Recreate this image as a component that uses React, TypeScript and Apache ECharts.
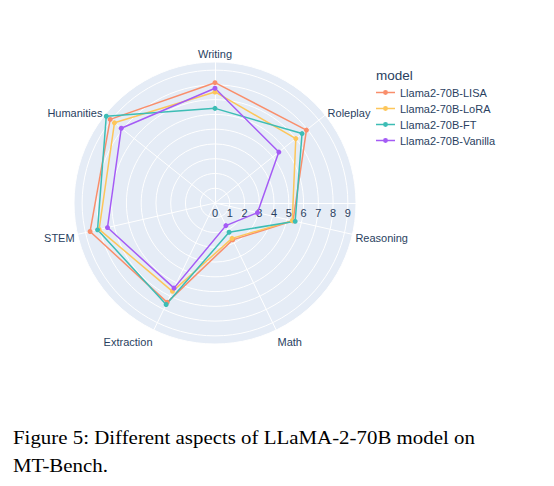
import { useEffect, useRef } from 'react'
import * as echarts from 'echarts'

// 类别 (plotly 顺时针顺序, 从顶部开始)
const categories = ['Writing', 'Roleplay', 'Reasoning', 'Math', 'Extraction', 'STEM', 'Humanities']

const models = ['Llama2-70B-LISA', 'Llama2-70B-LoRA', 'Llama2-70B-FT', 'Llama2-70B-Vanilla']
const colors = ['#F98E6B', '#FDC65A', '#3DBDB5', '#A45BF5']

const lisa = [8.15, 7.92, 5.42, 2.77, 7.47, 8.68, 9.08]
const lora = [7.52, 7.0, 5.37, 2.66, 6.64, 8.05, 8.71]
const ft = [6.41, 7.54, 5.57, 2.2, 7.63, 8.16, 9.42]
const vanilla = [7.77, 5.53, 2.95, 1.7, 6.4, 7.47, 8.12]

const radialTicks = ['0', '1', '2', '3', '4', '5', '6', '7', '8', '9']
const radialMax = 9.55

const caption = ['Figure 5: Different aspects of LLaMA-2-70B model on', 'MT-Bench.']

const font = '"Liberation Sans", Arial, sans-serif'
const textColor = '#2a3f5f'

// echarts radar 是逆时针, 重新排一下
const order = [0, 6, 5, 4, 3, 2, 1]
const reorder = (arr: number[]) => order.map((i) => arr[i])

// 类别名称往下挪一点, 对齐 plotly 的位置
const namePad: Record<string, string> = { Reasoning: 'a', STEM: 'a', Math: 'b', Extraction: 'b' }

// 图例: 线 + 圆点
const legendIcon =
  'path://M0,3.3H20V4.7H0Z M7.4,4A2.6,2.6 0 1,1 12.6,4A2.6,2.6 0 1,1 7.4,4Z'

export default function App() {
  const chartRef = useRef<HTMLDivElement>(null)

  useEffect(() => {
    document.body.style.margin = '0'
    if (!chartRef.current) return
    const chart = echarts.init(chartRef.current, null, { renderer: 'svg' })

    const seriesValues = [lisa, lora, ft, vanilla]

    const option = {
      animation: false,
      backgroundColor: '#fff',
      textStyle: { fontFamily: font },
      legend: {
        orient: 'vertical',
        left: 376,
        top: 86,
        padding: 0,
        itemWidth: 19,
        itemHeight: 8,
        itemGap: 3,
        icon: legendIcon,
        selectedMode: false,
        data: models,
        textStyle: { color: textColor, fontSize: 11, fontFamily: font, lineHeight: 13 }
      },
      polar: { center: [215, 203], radius: 141 },
      angleAxis: {
        type: 'value',
        min: 0,
        max: 360,
        startAngle: 0,
        axisLine: { show: false },
        axisTick: { show: false },
        axisLabel: { show: false },
        splitLine: { show: false }
      },
      radiusAxis: {
        type: 'value',
        min: 0,
        max: radialMax,
        interval: 1,
        z: 2,
        axisLine: { show: true, lineStyle: { color: '#fff', width: 1 } },
        axisTick: { show: false },
        axisLabel: {
          color: textColor,
          fontSize: 11,
          fontFamily: font,
          margin: -4,
          verticalAlign: 'top',
          showMaxLabel: false,
          formatter: (v: number) => (radialTicks.includes(String(v)) ? String(v) : '')
        },
        splitLine: { show: true, lineStyle: { color: '#fff', width: 1 } },
        splitArea: { show: false }
      },
      radar: {
        center: [215, 203],
        radius: 141,
        startAngle: 90,
        shape: 'circle',
        splitNumber: 1,
        z: 0,
        nameGap: 3,
        indicator: reorder(categories.map((_, i) => i)).map((i) => ({
          name: categories[i],
          min: 0,
          max: radialMax
        })),
        axisName: {
          color: textColor,
          fontSize: 11,
          fontFamily: font,
          formatter: (name: string) => (namePad[name] ? `{${namePad[name]}|${name}}` : name),
          rich: {
            a: { padding: [6, 0, 0, 0], color: textColor, fontSize: 11, fontFamily: font },
            b: { padding: [19, 0, 0, 0], color: textColor, fontSize: 11, fontFamily: font }
          }
        },
        axisLine: { lineStyle: { color: '#fff', width: 1 } },
        splitLine: { show: false },
        splitArea: { show: true, areaStyle: { color: ['#E5ECF6'] } }
      },
      graphic: [
        {
          type: 'text',
          left: 376,
          top: 68,
          style: { text: 'model', fill: textColor, font: `13.5px ${font}` }
        },
        {
          type: 'text',
          x: 13,
          y: 437,
          scaleX: 1.13,
          style: {
            text: caption[0],
            fill: '#000',
            font: '18.5px "Liberation Serif", "Times New Roman", serif',
            verticalAlign: 'middle'
          }
        },
        {
          type: 'text',
          x: 13,
          y: 465,
          scaleX: 1.13,
          style: {
            text: caption[1],
            fill: '#000',
            font: '18.5px "Liberation Serif", "Times New Roman", serif',
            verticalAlign: 'middle'
          }
        }
      ],
      series: [
        {
          type: 'radar',
          symbol: 'circle',
          symbolSize: 5,
          z: 3,
          data: models.map((name, k) => ({
            name,
            value: reorder(seriesValues[k]),
            itemStyle: { color: colors[k] },
            lineStyle: { color: colors[k], width: 1.5 }
          }))
        }
      ]
    }

    chart.setOption(option)
    return () => chart.dispose()
  }, [])

  return <div ref={chartRef} style={{ width: 554, height: 486 }} />
}
